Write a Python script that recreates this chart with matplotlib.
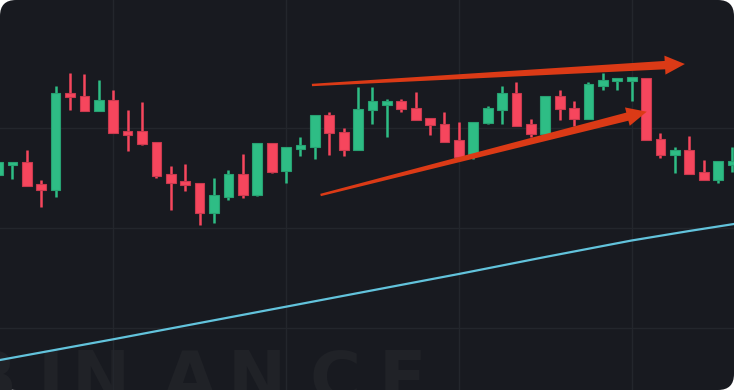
import numpy as np
import matplotlib.pyplot as plt
from matplotlib.patches import FancyBboxPatch, Polygon
from matplotlib.transforms import IdentityTransform

# velas (indice, abertura, maxima, minima, fechamento)
opens = [28530, 28630, 28665, 28445, 28385, 29350, 29325, 29175, 29283, 28970,
         28970, 28860, 28540, 28475, 28455, 28155, 28315, 28540, 28330, 28850,
         28570, 28795, 28815, 29135, 28965, 28780, 29185, 29235, 29275, 29205,
         29105, 29045, 28880, 28740, 29055, 29185, 29355, 29040, 28945, 29325,
         29205, 29095, 29425, 29475, 29475, 29505, 28895, 28730, 28785, 28565,
         28480, 28635]
highs = [28680, 28665, 28780, 28480, 29425, 29547, 29545, 29480, 29380, 29180,
         29260, 28860, 28625, 28645, 28455, 28505, 28580, 28745, 28850, 28850,
         28815, 28910, 29135, 29165, 29005, 29415, 29415, 29290, 29290, 29360,
         29105, 29160, 29060, 29065, 29225, 29420, 29465, 29095, 29325, 29380,
         29270, 29460, 29555, 29505, 29510, 29505, 28950, 28815, 28925, 28680,
         28670, 28815]
lows = [28510, 28495, 28420, 28215, 28315, 29180, 29170, 29170, 28950, 28770,
        28835, 28505, 28180, 28375, 28035, 28055, 28285, 28305, 28325, 28555,
        28455, 28720, 28695, 28730, 28725, 28780, 29045, 28915, 29165, 29085,
        28935, 28860, 28700, 28690, 29040, 29040, 29025, 28915, 28945, 29085,
        29020, 29095, 29380, 29380, 29275, 28880, 28705, 28555, 28545, 28480,
        28455, 28565]
closes = [28660, 28665, 28425, 28385, 29350, 29307, 29175, 29285, 28950, 28930,
          28840, 28520, 28455, 28435, 28155, 28330, 28540, 28335, 28850, 28565,
          28815, 28835, 29135, 28950, 28780, 29195, 29275, 29275, 29190, 29085,
          29030, 28860, 28715, 29065, 29205, 29355, 29025, 28945, 29325, 29195,
          29095, 29445, 29485, 29505, 29510, 28880, 28730, 28785, 28545, 28480,
          28670, 28670]

# media movel longa
ma_idx = [-1, 8, 20, 32, 38, 44, 48, 52]
ma_val = [26650, 26887, 27213, 27540, 27710, 27875, 27970, 28060]

# setas (cauda -> ponta)
seta_cima = [(21.8, 29430), (47.7, 29640)]
seta_baixo = [(22.4, 28330), (45.05, 29163)]

fundo = '#181a20'
verde, verde_borda = '#2ebd85', '#27a172'
vermelho, vermelho_borda = '#f6465d', '#c93a4e'

W, H = 734, 390
fig = plt.figure(figsize=(W / 100, H / 100), dpi=100)
fig.patch.set_facecolor('white')

bg = FancyBboxPatch((0, 0), W, H, boxstyle='round,pad=0,rounding_size=16',
                    transform=IdentityTransform(), facecolor=fundo,
                    edgecolor='none', zorder=-5)
fig.add_artist(bg)

ax = fig.add_axes([0, 0, 1, 1])
ax.set_facecolor('none')
ax.set_xlim(0.139, 51.11)
ax.set_ylim(26380, 30280)
for s in ax.spines.values():
    s.set_visible(False)
ax.set_xticks([])
ax.set_yticks([])

# grade
for y in [27000, 28000, 29000]:
    ax.axhline(y, color='#23262c', lw=1, zorder=0)
for x in [8, 20, 32, 44]:
    ax.axvline(x, color='#23262c', lw=1, zorder=0)

# marca d'agua
letras = ['B', 'I', 'N', 'A', 'N', 'C', 'E']
centros = [-10, 51, 101, 190, 257, 335, 402]
for c, x in zip(letras, centros):
    t = fig.text(x, -11, c, transform=IdentityTransform(), ha='center',
                 va='baseline', fontsize=50, fontweight='bold',
                 family='DejaVu Sans', color='#202227', zorder=-4)
    t.set_clip_path(bg)

idx = np.arange(len(opens))
o = np.array(opens)
c = np.array(closes)
sobe = c >= o
cores = np.where(sobe, verde, vermelho)
bordas = np.where(sobe, verde_borda, vermelho_borda)

ax.vlines(idx, lows, highs, colors=cores, lw=1.8, zorder=2)
ax.bar(idx, c - o, bottom=o, width=0.68, color=cores, edgecolor=bordas,
       linewidth=0.8, zorder=3)

ax.plot(ma_idx, ma_val, color='#62c3dc', lw=1.6, zorder=2)


def seta(cauda, ponta, w0=1.2, w1=4.2, hw=9.5, hl=20):
    p0, p1 = ax.transData.transform([cauda, ponta])
    d = (p1 - p0) / np.hypot(*(p1 - p0))
    n = np.array([-d[1], d[0]])
    base = p1 - d * hl
    pts = [p0 + n * w0, base + n * w1, base + n * hw, p1,
           base - n * hw, base - n * w1, p0 - n * w0]
    fig.add_artist(Polygon(pts, closed=True, transform=IdentityTransform(),
                           facecolor='#db3a16', edgecolor='none', zorder=5))


seta(*seta_cima)
seta(*seta_baixo)

fig.savefig('out.png', dpi=100, facecolor='white')
